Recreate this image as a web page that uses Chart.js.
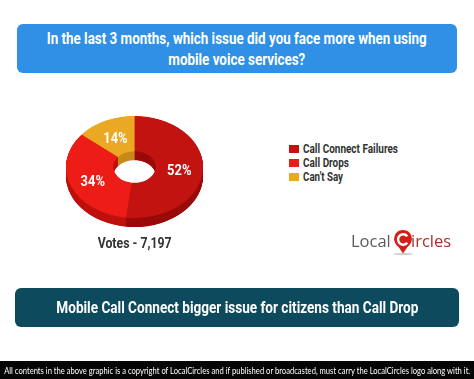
<!DOCTYPE html>
<html><head><meta charset="utf-8">
<script src="https://cdn.jsdelivr.net/npm/chart.js@4.4.1/dist/chart.umd.min.js"></script>
<style>
html,body{margin:0;padding:0;background:#fff;width:474px;height:379px;overflow:hidden;font-family:Roboto,"Noto Sans",sans-serif;}
.abs{position:absolute;}
.line{position:absolute;left:0;width:100%;display:flex;justify-content:center;white-space:nowrap;}
.fit{display:inline-block;flex:none;transform-origin:center center;white-space:nowrap;}
#hdr{left:17px;top:24px;width:440px;height:49px;background:#2F90E5;border-radius:6px;color:#fff;font-weight:700;font-size:16px;}
#pie{left:66px;top:116px;width:137px;height:137px;}
#votes{left:35px;top:234px;width:200px;height:20px;line-height:20px;color:#333;font-weight:700;font-size:14.5px;}
#legend{left:289px;top:142px;width:170px;}
.li{position:relative;height:14px;line-height:14px;font-size:13px;font-weight:700;color:#333;white-space:nowrap;}
.li .sw{position:absolute;left:0;top:3px;width:10px;height:8px;}
.li .tx{position:absolute;left:14px;top:0;display:inline-block;transform-origin:left center;}
#logotxt1{left:351px;top:229px;font-family:"Open Sans",sans-serif;font-size:16.5px;color:#5b5b5b;line-height:24px;}
#logotxt2{left:411px;top:229px;font-family:"Open Sans",sans-serif;font-size:16.5px;color:#A8302B;line-height:24px;}
#foot-box{left:15px;top:288px;width:444px;height:39px;background:#0D4A5D;border-radius:6px;color:#fff;font-weight:700;font-size:16px;}
#footer{left:0;top:361px;width:474px;height:18px;background:#050505;color:#fff;font-family:Lato,"Open Sans",sans-serif;font-size:10px;overflow:hidden;}
</style>
</head><body>
<div id="hdr" class="abs">
  <div class="line" style="top:5px;line-height:20px;"><span class="fit" data-w="380">In the last 3 months, which issue did you face more when using</span></div>
  <div class="line" style="top:26px;line-height:20px;"><span class="fit" data-w="137">mobile voice services?</span></div>
</div>
<div id="pie" class="abs"><canvas id="c"></canvas></div>
<div id="votes" class="abs"><div class="line" style="top:0;line-height:20px;"><span class="fit" id="votesTxt" data-w="74"></span></div></div>
<div id="legend" class="abs"></div>
<svg class="abs" style="left:0;top:0;" width="474" height="379">
  <ellipse cx="403" cy="254" rx="10" ry="1.2" fill="#cfcfcf"/>
  <path d="M394.5,241 A8.8,8.8 0 1 1 411.5,241 L403,253.5 Z" fill="#D1201B"/>
  <circle cx="403" cy="239.5" r="8.6" fill="#D1201B"/>
  <path d="M407.3,236.2 A5.2,5.2 0 1 0 407.3,242.8" fill="none" stroke="#fff" stroke-width="2.4"/>
</svg>
<div id="logotxt1" class="abs">Local</div>
<div id="logotxt2" class="abs">ircles</div>
<div id="foot-box" class="abs">
  <div class="line" style="top:9px;line-height:21px;"><span class="fit" data-w="362">Mobile Call Connect bigger issue for citizens than Call Drop</span></div>
</div>
<div id="footer" class="abs">
  <div class="line" style="top:0;line-height:18px;"><span class="fit" data-w="466">All contents in the above graphic is a copyright of LocalCircles and if published or broadcasted, must carry the LocalCircles logo along with it.</span></div>
</div>
<script>
const categories = ["Call Connect Failures", "Call Drops", "Can't Say"];
const shares = [52, 34, 14];
const totalVotes = "7,197";
const topColors = ["#C31311", "#EE1C16", "#EBA823"];
const sideColors = ["#9A0B0A", "#BF120F", "#C98A18"];
const legendWidths = [95, 46, 40];

const SQUASH = 0.745;
const DEPTH = 9;

document.getElementById('votesTxt').textContent = 'Votes - ' + totalVotes;

const leg = document.getElementById('legend');
categories.forEach((c, i) => {
  const d = document.createElement('div');
  d.className = 'li';
  d.innerHTML = '<span class="sw"></span><span class="tx"></span>';
  d.querySelector('.sw').style.background = topColors[i];
  const t = d.querySelector('.tx');
  t.textContent = c;
  t.dataset.w = legendWidths[i];
  leg.appendChild(d);
});

function fitAll() {
  document.querySelectorAll('.fit, .li .tx').forEach(el => {
    el.style.transform = 'none';
    const w = el.getBoundingClientRect().width;
    const target = parseFloat(el.dataset.w);
    if (w > 0 && target) el.style.transform = 'scaleX(' + (target / w) + ')';
  });
}
fitAll();
if (document.fonts && document.fonts.ready) document.fonts.ready.then(fitAll);

const pseudo3d = {
  id: 'pseudo3d',
  beforeDatasetsDraw(chart) {
    const ctx = chart.ctx;
    const top = chart.chartArea.top;
    ctx.save();
    ctx.translate(0, top);
    ctx.scale(1, SQUASH);
    ctx.translate(0, -top);
    const meta = chart.getDatasetMeta(0);
    const D = DEPTH / SQUASH;
    for (let d = D; d >= 0.5; d -= 0.5) {
      meta.data.forEach((arc, i) => {
        const p = arc.getProps(['x', 'y', 'startAngle', 'endAngle', 'innerRadius', 'outerRadius'], true);
        ctx.beginPath();
        ctx.arc(p.x, p.y + d, p.outerRadius, p.startAngle, p.endAngle);
        ctx.arc(p.x, p.y + d, p.innerRadius, p.endAngle, p.startAngle, true);
        ctx.closePath();
        ctx.fillStyle = sideColors[i];
        ctx.fill();
      });
    }
  },
  afterDatasetsDraw(chart) {
    const ctx = chart.ctx;
    ctx.restore();
    const top = chart.chartArea.top;
    const meta = chart.getDatasetMeta(0);
    ctx.save();
    ctx.fillStyle = '#fff';
    ctx.textAlign = 'center';
    ctx.textBaseline = 'middle';
    ctx.font = '700 15px Roboto, sans-serif';
    meta.data.forEach((arc, i) => {
      const pos = arc.tooltipPosition(true);
      const sx = pos.x;
      const sy = top + (pos.y - top) * SQUASH + 2.5;
      ctx.save();
      ctx.translate(sx, sy);
      ctx.scale(0.86, 1);
      ctx.fillText(shares[i] + '%', 0, 0);
      ctx.restore();
    });
    ctx.restore();
  }
};

new Chart(document.getElementById('c'), {
  type: 'doughnut',
  data: {
    labels: categories,
    datasets: [{
      data: shares,
      backgroundColor: topColors,
      borderWidth: 0,
      hoverOffset: 0
    }]
  },
  options: {
    responsive: true,
    maintainAspectRatio: false,
    animation: false,
    cutout: '31%',
    layout: { padding: 0 },
    events: [],
    plugins: {
      legend: { display: false },
      tooltip: { enabled: false }
    }
  },
  plugins: [pseudo3d]
});
</script>
</body></html>
